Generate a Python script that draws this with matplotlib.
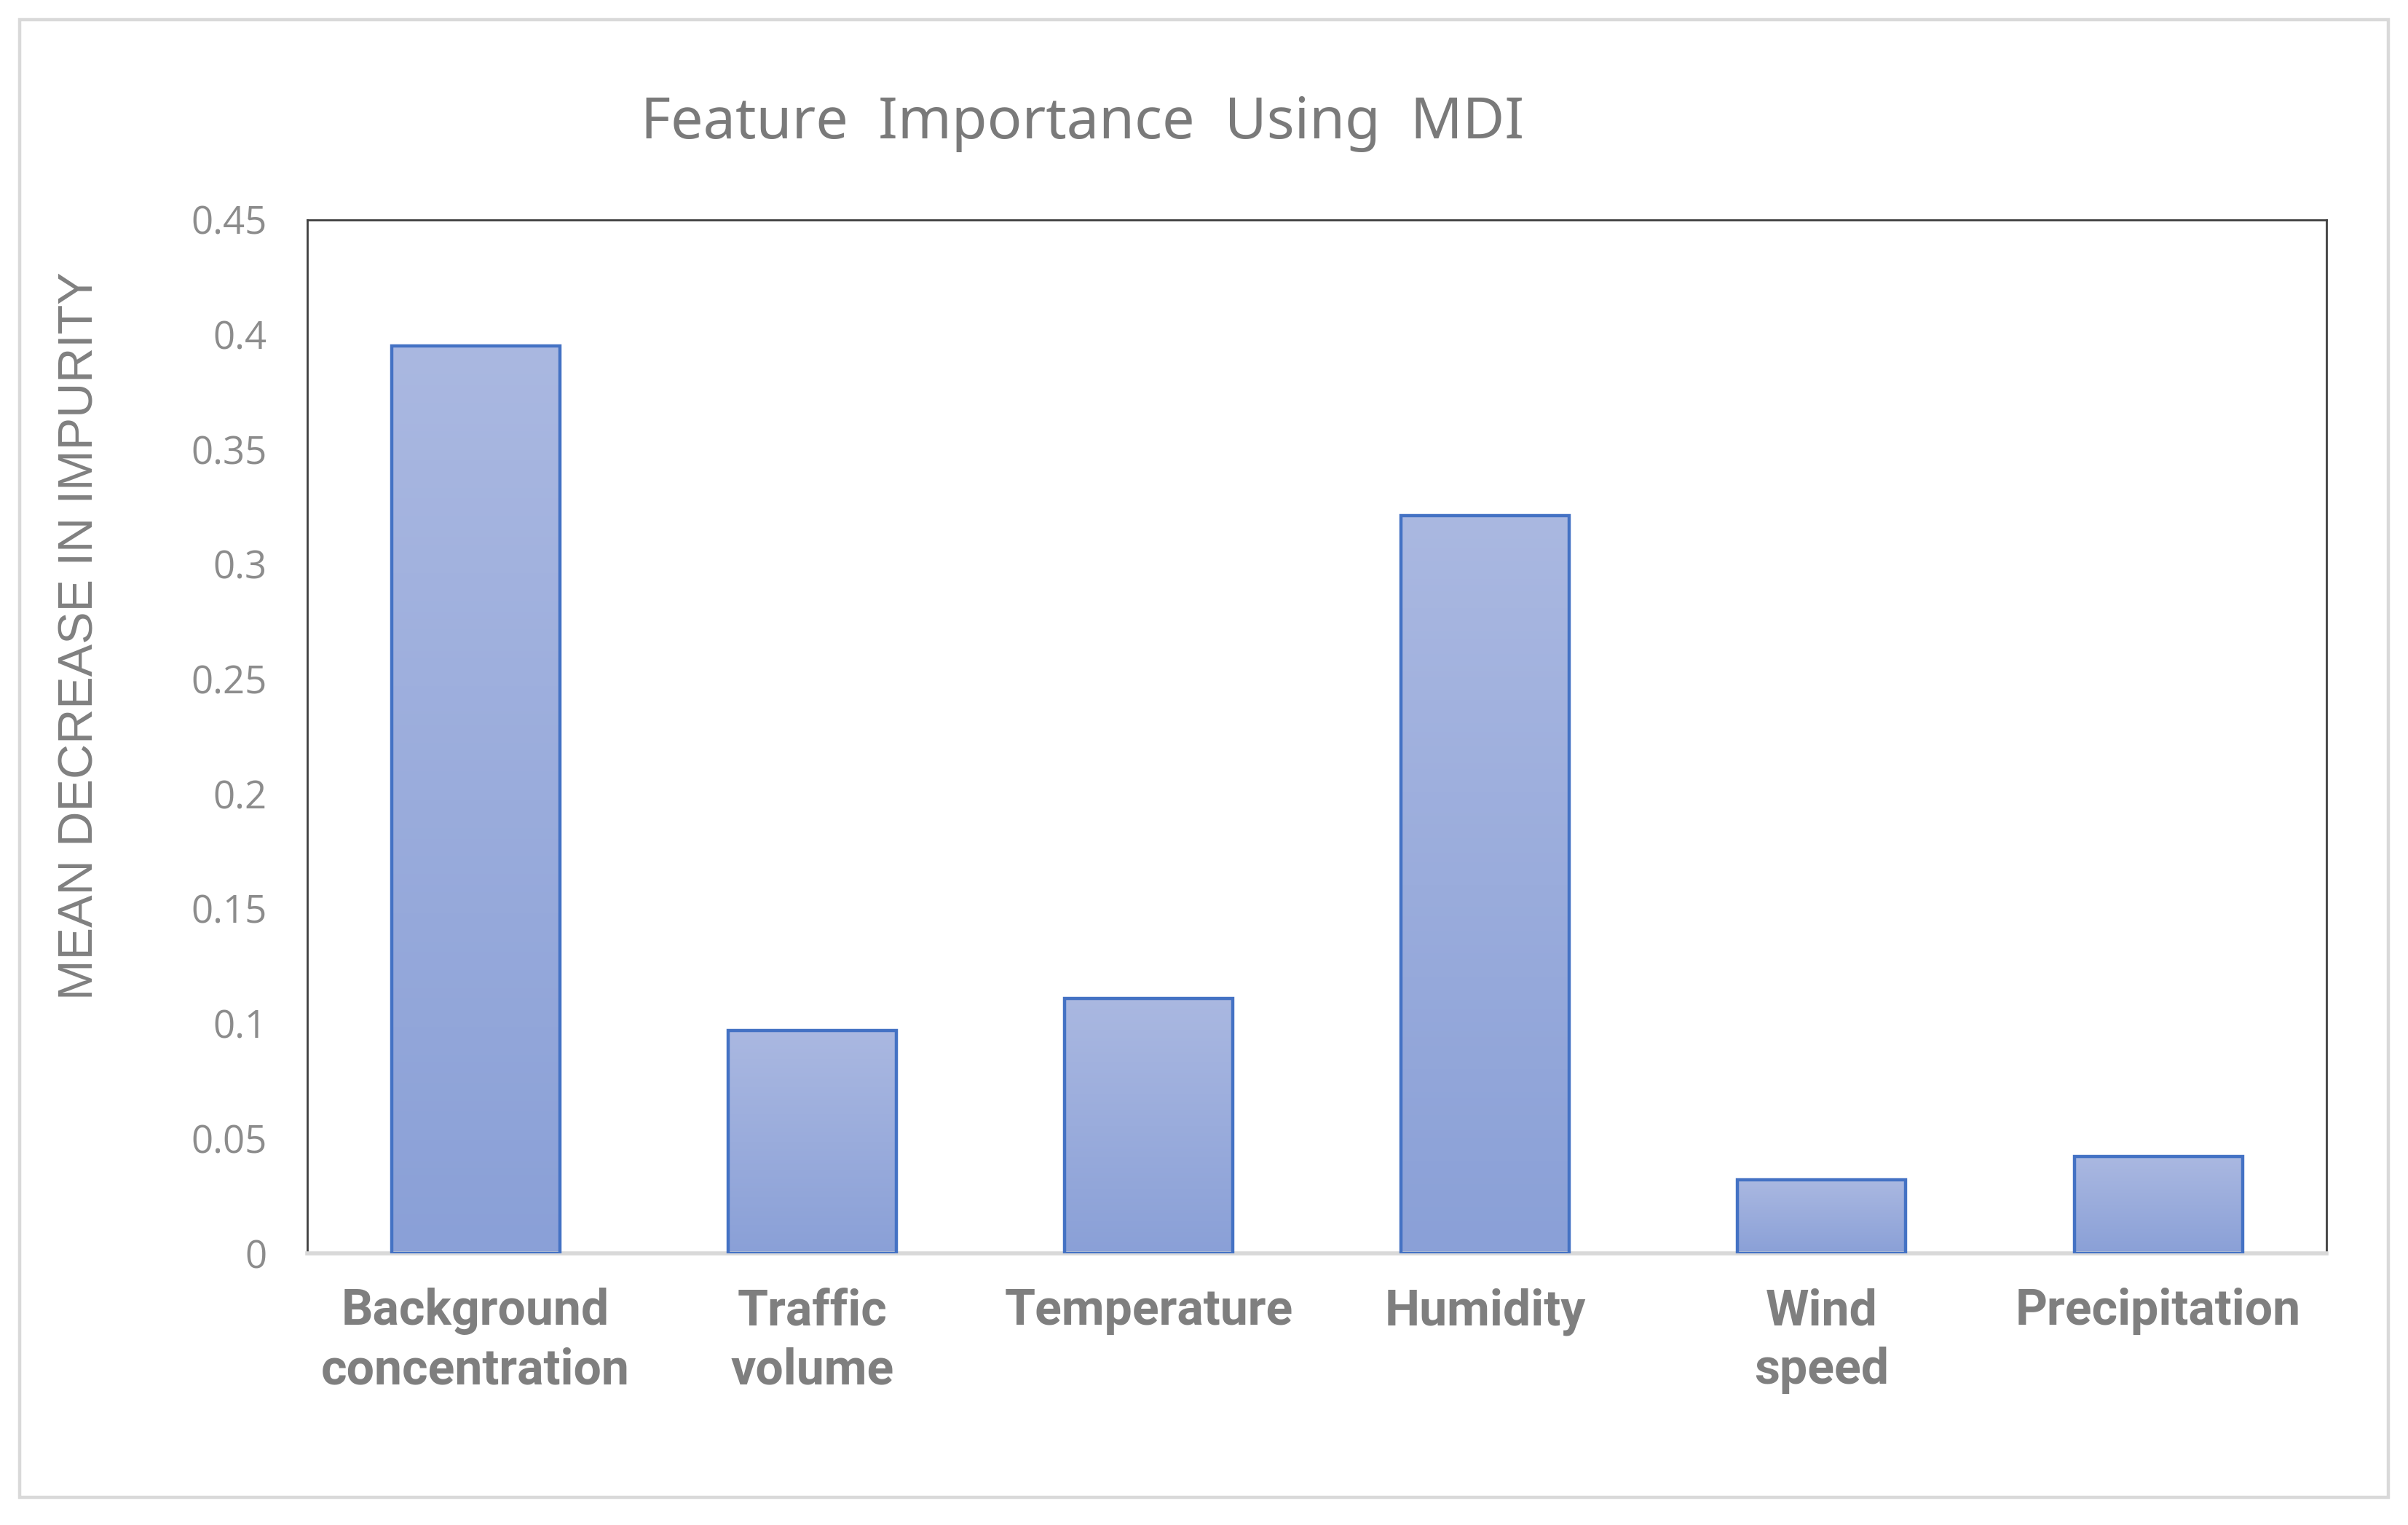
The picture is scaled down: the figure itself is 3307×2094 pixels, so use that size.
import numpy as np
import matplotlib
matplotlib.use("Agg")
import matplotlib.pyplot as plt
from matplotlib.colors import LinearSegmentedColormap
from matplotlib.patches import Rectangle

# data
features = ["Background\nconcentration", "Traffic\nvolume", "Temperature",
            "Humidity", "Wind\nspeed", "Precipitation"]
importance = [0.395, 0.097, 0.111, 0.321, 0.032, 0.042]
y_ticks = [0, 0.05, 0.1, 0.15, 0.2, 0.25, 0.3, 0.35, 0.4, 0.45]
y_tick_labels = ["0", "0.05", "0.1", "0.15", "0.2", "0.25", "0.3", "0.35", "0.4", "0.45"]

EDGE = "#4472c4"
grad = LinearSegmentedColormap.from_list("bar_grad", ["#8aa0d7", "#aab8e1"])

fig = plt.figure(figsize=(16.535, 10.47), dpi=200)
ax = fig.add_axes([0.1276, 0.1782, 0.8386, 0.6778])

x = np.arange(len(features))
bars = ax.bar(x, importance, width=0.5, facecolor="none", edgecolor=EDGE,
              linewidth=1.6, zorder=3)

# vertical gradient inside every bar
g = np.linspace(0, 1, 256).reshape(-1, 1)
for b in bars:
    x0, y0 = b.get_x(), b.get_y()
    w, h = b.get_width(), b.get_height()
    im = ax.imshow(g, cmap=grad, origin="lower", aspect="auto",
                   extent=(x0, x0 + w, y0, y0 + h), zorder=2)
    im.set_clip_path(b)

ax.set_xlim(-0.5, len(features) - 0.5)
ax.set_ylim(0, 0.45)

ax.set_yticks(y_ticks)
ax.set_yticklabels(y_tick_labels, fontsize=19, color="#8c8c8c",
                   family=["Open Sans", "DejaVu Sans"])
ax.set_xticks(x)
ax.set_xticklabels(features, fontsize=24.5, color="#7f7f7f", fontweight="bold",
                   family=["Roboto", "Liberation Sans"],
                   linespacing=1.32)
ax.tick_params(axis="y", length=0, pad=20)
ax.tick_params(axis="x", length=0, pad=17)

for s in ["left", "top", "right"]:
    ax.spines[s].set_color("#404040")
    ax.spines[s].set_linewidth(1.0)
ax.spines["bottom"].set_color("#d9d9d9")
ax.spines["bottom"].set_linewidth(2.0)

ax.set_ylabel("MEAN DECREASE IN IMPURITY", fontsize=24, color="#808080",
              family=["Liberation Sans", "DejaVu Sans"])
ax.yaxis.set_label_coords(-0.101, 0.597)

fig.text(0.4496, 0.919, "Feature  Importance  Using  MDI", ha="center", va="center",
         fontsize=28.5, color="#7a7a7a", family=["Noto Sans", "DejaVu Sans"])

# outer chart border like the spreadsheet frame
fig.patches.append(Rectangle((0.0083, 0.0181), 0.9834, 0.9689, transform=fig.transFigure,
                             fill=False, edgecolor="#d9d9d9", linewidth=1.6))

fig.savefig("out.png", dpi=200, facecolor="white")
